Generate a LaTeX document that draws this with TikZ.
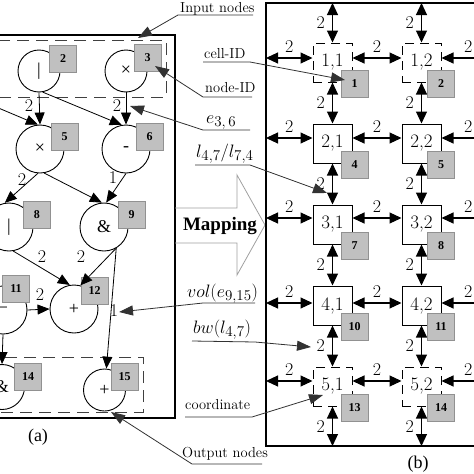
\RequirePackage{fix-cm}
\documentclass[tikz,border=0pt]{standalone}
\usepackage{fontspec}
\newfontfamily\tnr{Liberation Serif}
\usetikzlibrary{arrows.meta}
\DeclareMathSizes{18}{18}{15}{12}
\definecolor{boxfill}{RGB}{192,192,192}
\definecolor{boxline}{RGB}{145,145,145}
\definecolor{annc}{RGB}{50,50,50}
\definecolor{mapc}{RGB}{160,160,160}
\tikzset{
 opnode/.style={circle,draw,line width=0.9pt,minimum size=48pt,inner sep=0pt,font=\tnr\fontsize{18}{18}\selectfont},
 opsm/.style={opnode,minimum size=42pt},
 idb/.style={draw=boxline,fill=boxfill,line width=0.6pt,minimum size=27pt,inner sep=0pt,font=\tnr\bfseries\fontsize{12}{12}\selectfont},
 flow/.style={-{Triangle[length=12pt,width=10pt]},line width=0.8pt},
 elbl/.style={inner sep=0pt,font=\fontsize{18}{18}\selectfont},
 cellbox/.style={draw,line width=1pt,minimum size=39pt,inner sep=0pt,font=\fontsize{19}{19}\selectfont},
 dcell/.style={cellbox,dash pattern=on 9pt off 6pt},
 dbl/.style={{Triangle[length=12pt,width=11pt]}-{Triangle[length=12pt,width=11pt]},line width=1.1pt},
 hl/.style={elbl,midway,above=5pt},
 vl/.style={elbl,midway,left=7pt},
 grp/.style={draw=black!75,line width=1pt,dash pattern=on 12pt off 7pt},
 annarr/.style={draw=annc,line width=0.8pt,-{Triangle[length=14pt,width=10pt]}},
 atext/.style={inner sep=0pt,anchor=base west,font=\fontsize{14.5}{14.5}\selectfont},
 mtext/.style={inner sep=0pt,anchor=base west,font=\fontsize{18}{18}\selectfont},
}
\begin{document}
\begin{tikzpicture}[x=1pt,y=-1pt]
\useasboundingbox (0,0) rectangle (474,474);
\clip (0,0) rectangle (474,474);

% ---------------- panel (a) ----------------
\draw[line width=1.4pt] (-10,35) rectangle (175,418);
\draw[grp] (-20,40) rectangle (166,97);
\draw[grp] (-20,357) rectangle (143,412);

\node[opsm] (n2) at (39,71) {|};
\node[opsm] (n3) at (126,71) {×};
\node[opnode] (n5) at (40,149) {×};
\node[opnode] (n6) at (126,149) {-};
\node[opnode] (n8) at (9,227) {|};
\node[opnode] (n9) at (104,227) {\&};
\node[opnode] (n11) at (3,310) {−};
\node[opnode] (n12) at (74,309) {+};
\node[opnode,minimum size=45pt] (n14) at (2,387) {\&};
\node[opsm] (n15) at (104.5,390) {+};

\node[idb] (a2) at (63,58.5) {2};
\node[idb] (a3) at (147.5,57.5) {3};
\node[idb] (a5) at (64.5,136.5) {5};
\node[idb] (a6) at (149.5,136.5) {6};
\node[idb] (a8) at (37,215) {8};
\node[idb] (a9) at (131.5,215) {9};
\node[idb] (a11) at (16,288.5) {11};
\node[idb] (a12) at (94.5,290.5) {12};
\node[idb] (a14) at (28,376.5) {14};
\node[idb] (a15) at (124.5,376.5) {15};

\coordinate (src1) at (-30,96);
\draw[flow] (src1) -- (n5.95);
\draw[flow] (n2.south) -- (n5.north);
\draw[flow] (n3.south) -- (n6.north);
\draw[flow] (n2.-80) -- (n6.100);
\draw[flow] (n5.-95) -- (n8.100);
\draw[flow] (n5.-80) -- (n9.95);
\draw[flow] (n6.south) -- (n9.85);
\draw[flow] (n8.-80) -- (n12.100);
\draw[flow] (n9.-60) -- (n12.75);
\draw[flow] (n11.east) -- (n12.west);
\draw[flow] (n11.south) -- (n14.north);
\draw[flow] (n9.-60) -- (n15.85);

\node[elbl] (l25) at (29,106) {2};
\node[elbl] (l36) at (117,106) {2};
\node[elbl] (l58) at (22,180) {2};
\node[elbl] (l69) at (113,178) {1};
\node[elbl] (l812) at (42,257) {2};
\node[elbl] (l912) at (81,257) {2};
\node[elbl] (l1112) at (40,295) {2};
\node[elbl] (l915) at (114,311) {1};

\node[inner sep=0pt,font=\tnr\fontsize{18}{18}\selectfont] (capa) at (38,437) {(a)};

% ---------------- mapping arrow ----------------
\draw[draw=mapc,line width=0.8pt] (175,208) -- (237,208) -- (237,175) -- (265,225) -- (237,275) -- (237,243) -- (175,243);
\node[inner sep=0pt,font=\tnr\bfseries\fontsize{19}{19}\selectfont] (map) at (220,226) {Mapping};

% ---------------- panel (b) ----------------
\draw[line width=1.2pt] (266,3) rectangle (490,446);

\node[dcell] (c11) at (332.5,62.5) {1,1};
\node[dcell] (c12) at (421.5,62.5) {1,2};
\node[cellbox] (c21) at (332.5,143.5) {2,1};
\node[cellbox] (c22) at (421.5,143.5) {2,2};
\node[cellbox] (c31) at (332.5,224.5) {3,1};
\node[cellbox] (c32) at (421.5,224.5) {3,2};
\node[cellbox] (c41) at (332.5,305.5) {4,1};
\node[cellbox] (c42) at (421.5,305.5) {4,2};
\node[dcell] (c51) at (332.5,386.5) {5,1};
\node[dcell] (c52) at (421.5,386.5) {5,2};

\coordinate (T1) at (332.5,3);
\coordinate (T2) at (421.5,3);
\coordinate (B1) at (332.5,446);
\coordinate (B2) at (421.5,446);

\foreach \r/\y in {1/58,2/138,3/218,4/303,5/381}{
  \coordinate (L\r) at (266,\y);
  \coordinate (R\r) at (495,\y);
  \draw[dbl] (L\r) -- node[hl] (hl\r) {2} (L\r -| c\r1.west);
  \draw[dbl] (L\r -| c\r1.east) -- node[hl] (hm\r) {2} (L\r -| c\r2.west);
  \draw[dbl] (L\r -| c\r2.east) -- node[hl] (hr\r) {2} (R\r);
}
\foreach \c in {1,2}{
  \draw[dbl] (T\c) -- node[vl] (vt\c) {2} (c1\c.north);
  \foreach \r [count=\s from 2] in {1,...,4}{
    \draw[dbl] (c\r\c.south) -- node[vl] (v\r\c) {2} (c\s\c.north);
  }
  \draw[dbl] (c5\c.south) -- node[vl] (vb\c) {2} (B\c);
}

\node[idb] (m1) at (354.5,83.5) {1};
\node[idb] (m2) at (441,83.5) {2};
\node[idb] (m4) at (354.5,164.5) {4};
\node[idb] (m5) at (441,164.5) {5};
\node[idb] (m7) at (354.5,245.5) {7};
\node[idb] (m8) at (441,245.5) {8};
\node[idb] (m10) at (354.5,326.5) {10};
\node[idb] (m11) at (441,326.5) {11};
\node[idb] (m13) at (354.5,407.5) {13};
\node[idb] (m14) at (441,407.5) {14};

\node[inner sep=0pt,font=\tnr\fontsize{18}{18}\selectfont] (capb) at (418,464) {(b)};

% ---------------- annotations ----------------
\node[atext] (tin) at (180,12) {Input nodes};
\coordinate (iu0) at (178,15); \coordinate (iu1) at (253,15); \coordinate (it) at (138,38);
\draw[annarr] (iu1) -- (iu0) -- (it);

\node[atext] (tcell) at (204,58) {cell-ID};
\coordinate (cu0) at (203,62); \coordinate (cu1) at (250,62); \coordinate (ct) at (345,80);
\draw[annarr] (cu0) -- (cu1) -- (ct);

\node[atext] (tnode) at (205,92) {node-ID};
\coordinate (nu0) at (203,97); \coordinate (nu1) at (252,97); \coordinate (nt) at (155,66);
\draw[annarr] (nu1) -- (nu0) -- (nt);

\node[mtext] (te36) at (206,123) {$e_{3,\,6}$};
\coordinate (eu0) at (203,130); \coordinate (eu1) at (250,130); \coordinate (et) at (130,106);
\draw[annarr] (eu1) -- (eu0) -- (et);

\node[mtext] (tl47) at (196,157) {$l_{4,7}/l_{7,4}$};
\coordinate (lu0) at (195,165); \coordinate (lu1) at (250,165); \coordinate (lt) at (327,193);
\draw[annarr] (lu0) -- (lu1) -- (lt);

\node[mtext] (tvol) at (187,297) {$vol(e_{9,15})$};
\coordinate (vu0) at (203,303); \coordinate (vu1) at (255,303); \coordinate (vt) at (119,312);
\draw[annarr] (vu1) -- (vu0) -- (vt);

\node[mtext] (tbw) at (193,333) {$bw(l_{4,7})$};
\coordinate (bu0) at (192,341); \coordinate (bu1) at (255,342); \coordinate (bt) at (311,347);
\draw[annarr] (bu0) -- (bu1) -- (bt);

\node[atext] (tcoord) at (185,409) {coordinate};
\coordinate (ku0) at (185,417); \coordinate (ku1) at (252,417); \coordinate (kt) at (323,395);
\draw[annarr] (ku0) -- (ku1) -- (kt);

\node[atext] (tout) at (182,457) {Output nodes};
\coordinate (ou0) at (192,464); \coordinate (ou1) at (262,464); \coordinate (ot) at (111,412);
\draw[annarr] (ou1) -- (ou0) -- (ot);
\end{tikzpicture}
\end{document}
